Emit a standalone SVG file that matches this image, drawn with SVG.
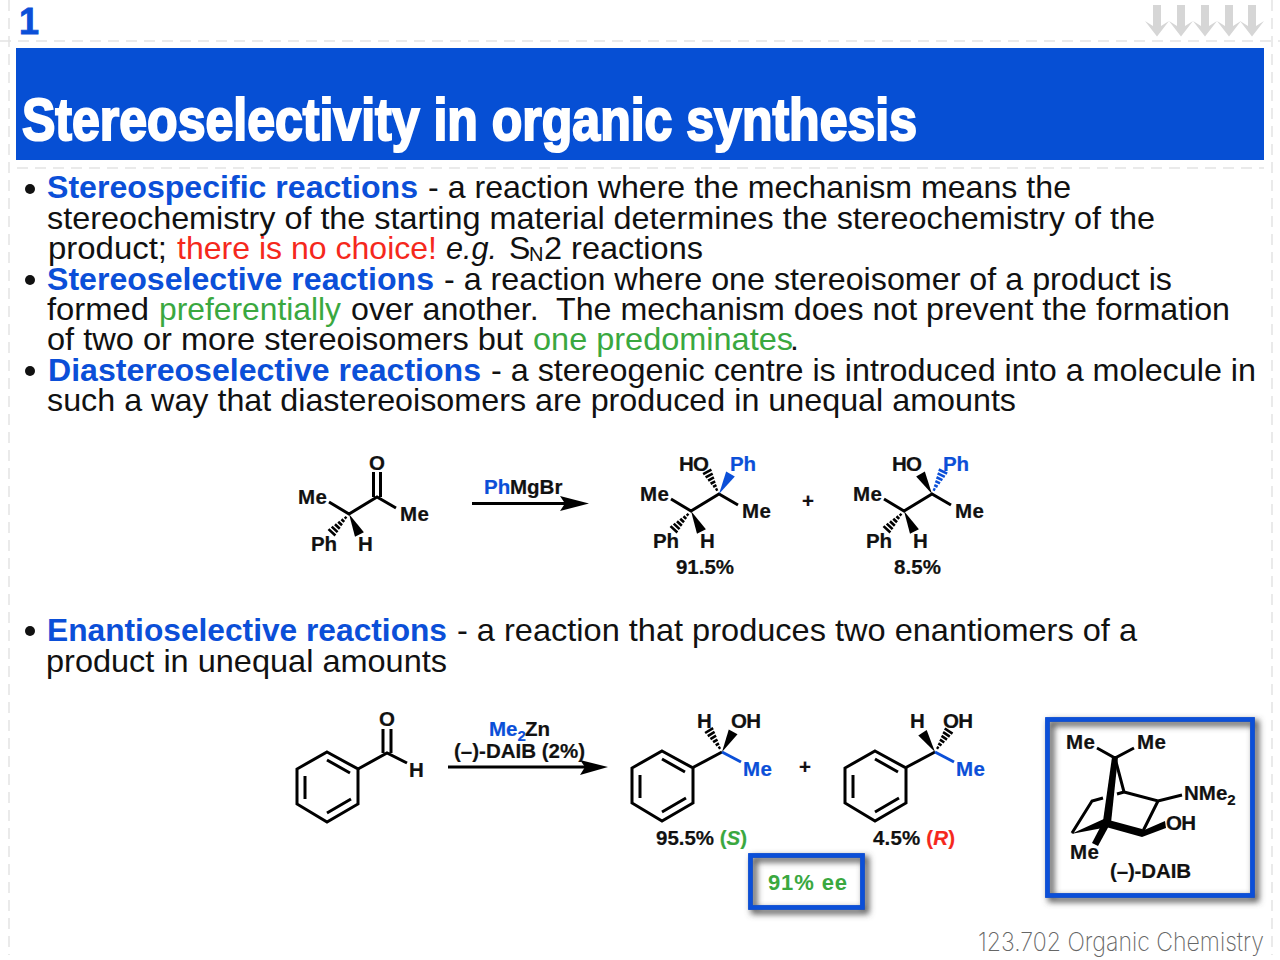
<svg xmlns="http://www.w3.org/2000/svg" width="1280" height="960" viewBox="0 0 1280 960">
<style>
text{font-family:"Liberation Sans",Arial,sans-serif}
.b{font-size:32px;fill:#111}
.bl{fill:#0b4fd8;font-weight:bold;font-size:32px}
.r{font-size:32px;fill:#f5281c}
.g{font-size:32px;fill:#3aa83f}
.c{font-size:20.5px;font-weight:bold;fill:#111;stroke:#111;stroke-width:.2}
.cb{font-size:20.5px;font-weight:bold;fill:#0b4fd8;stroke:#0b4fd8;stroke-width:.2}
.bond{fill:none;stroke:#000;stroke-width:3;stroke-linecap:butt;stroke-linejoin:miter}
.blue{stroke:#0b4fd8}
.guide{fill:none;stroke:#e4e4e4;stroke-width:1.5;stroke-dasharray:11 7}
.dot{fill:#111}
.arrowdown{fill:#d6d6d6}
.box{fill:#fff;stroke:#0b4fd8;stroke-width:4.5}
.shadow{fill:none;stroke:#555;stroke-width:6;filter:url(#blur)}
</style>
<defs>
<filter id="blur" x="-20%" y="-20%" width="140%" height="140%"><feGaussianBlur stdDeviation="3"/></filter>
<g id="hash" stroke-width="2.600" fill="none">
<path d="M5 -1.200V1.200M9 -1.900V1.900M13 -2.600V2.600M17 -3.300V3.300M21 -4V4M25 -4.700V4.700"/>
</g>
<polygon id="wedge" points="0,0 23,-5 23,5"/>
<g id="benz">
<path class="bond" d="M327 752L358 769V804L327 822L297 804V769Z"/>
<path class="bond" d="M327 760L350 773M305 776V799M327 813L351 799"/>
</g>
<g id="lower">
<path class="bond" d="M671 499L691 511L719 494L738 505"/>
<use href="#wedge" transform="translate(691 511) rotate(63)" fill="#000"/>
<use href="#hash" transform="translate(691 511) rotate(133)" stroke="#000"/>
<text class="c" x="640" y="501" textLength="29">Me</text>
<text class="c" x="742" y="518" textLength="29">Me</text>
<text class="c" x="653" y="548" textLength="26">Ph</text>
<text class="c" x="700" y="548">H</text>
</g>
<g id="arrowd"><polygon class="arrowdown" points="-4,5 4,5 4,26 12,21 0,36.500 -12,21 -4,26"/></g>
</defs>
<rect width="1280" height="960" fill="#fff"/>
<g id="guides">
<path class="guide" d="M0 41H1280M17 168H1264M9 0V955M1272 0V955"/>
</g>
<g id="header">
<text x="19" y="34" font-size="36" font-weight="bold" fill="#0b4fd8" stroke="#0b4fd8" stroke-width=".8">1</text>
<use href="#arrowd" x="1157"/><use href="#arrowd" x="1181"/><use href="#arrowd" x="1205"/><use href="#arrowd" x="1229"/><use href="#arrowd" x="1252"/>
<rect x="16" y="48" width="1248" height="112" fill="#064fd4"/>
<text x="22" y="140" font-size="60" font-weight="bold" fill="#fff" stroke="#fff" stroke-width="2.200" textLength="895" lengthAdjust="spacingAndGlyphs">Stereoselectivity in organic synthesis</text>
</g>
<g id="bullets">
<circle class="dot" cx="30" cy="189" r="5"/><circle class="dot" cx="30" cy="280" r="5"/><circle class="dot" cx="30" cy="371" r="5"/><circle class="dot" cx="30" cy="631" r="5"/>
<text class="bl" x="47" y="198" textLength="371" lengthAdjust="spacingAndGlyphs">Stereospecific reactions</text>
<text class="b" x="428" y="198" textLength="643" lengthAdjust="spacingAndGlyphs">- a reaction where the mechanism means the</text>
<text class="b" x="47" y="229" textLength="1108" lengthAdjust="spacingAndGlyphs">stereochemistry of the starting material determines the stereochemistry of the</text>
<text class="b" x="48" y="259" textLength="119" lengthAdjust="spacingAndGlyphs">product;</text>
<text class="r" x="177" y="259" textLength="260" lengthAdjust="spacingAndGlyphs">there is no choice!</text>
<text class="b" x="446" y="259" font-style="italic" textLength="51" lengthAdjust="spacingAndGlyphs">e.g.</text>
<text class="b" x="509" y="259">S</text><text class="b" x="529" y="261" style="font-size:20px">N</text>
<text class="b" x="544" y="259" textLength="159" lengthAdjust="spacingAndGlyphs">2 reactions</text>
<text class="bl" x="47" y="290" textLength="387" lengthAdjust="spacingAndGlyphs">Stereoselective reactions</text>
<text class="b" x="444" y="290" textLength="728" lengthAdjust="spacingAndGlyphs">- a reaction where one stereoisomer of a product is</text>
<text class="b" x="47" y="320" textLength="102" lengthAdjust="spacingAndGlyphs">formed</text>
<text class="g" x="159" y="320" textLength="182" lengthAdjust="spacingAndGlyphs">preferentially</text>
<text class="b" x="351" y="320" textLength="879" lengthAdjust="spacingAndGlyphs">over another.&#160; The mechanism does not prevent the formation</text>
<text class="b" x="47" y="350" textLength="476" lengthAdjust="spacingAndGlyphs">of two or more stereoisomers but</text>
<text class="g" x="533" y="350" textLength="260" lengthAdjust="spacingAndGlyphs">one predominates</text>
<text class="b" x="790" y="350">.</text>
<text class="bl" x="48" y="381" textLength="433" lengthAdjust="spacingAndGlyphs">Diastereoselective reactions</text>
<text class="b" x="491" y="381" textLength="765" lengthAdjust="spacingAndGlyphs">- a stereogenic centre is introduced into a molecule in</text>
<text class="b" x="47" y="411" textLength="969" lengthAdjust="spacingAndGlyphs">such a way that diastereoisomers are produced in unequal amounts</text>
<text class="bl" x="47" y="641" textLength="400" lengthAdjust="spacingAndGlyphs">Enantioselective reactions</text>
<text class="b" x="457" y="641" textLength="680" lengthAdjust="spacingAndGlyphs">- a reaction that produces two enantiomers of a</text>
<text class="b" x="46" y="672" textLength="401" lengthAdjust="spacingAndGlyphs">product in unequal amounts</text>
</g>
<g id="scheme-ketone">
<use href="#lower" transform="translate(-342 3)"/>
<path class="bond" d="M373.500 497V472M380.500 497V472"/>
<text class="c" x="369" y="470">O</text>
</g>
<g id="connector-1">
<path class="bond" d="M472 503.500H566"/><polygon points="560,496 589,503.500 560,511 565,503.500" fill="#000"/>
<text class="cb" x="484" y="494">Ph</text><text class="c" x="510" y="494">MgBr</text>
</g>
<g id="product-91">
<use href="#lower"/>
<use href="#wedge" transform="translate(719 494) rotate(-60)" fill="#0b4fd8"/>
<use href="#hash" transform="translate(719 494) rotate(-118)" stroke="#000"/>
<text class="c" x="679" y="471" textLength="30">HO</text>
<text class="cb" x="730" y="471" textLength="26">Ph</text>
<text class="c" x="676" y="574" textLength="58">91.5%</text>
</g>
<text class="c" x="802" y="508" id="plus-1">+</text>
<g id="product-8">
<use href="#lower" transform="translate(213 0)"/>
<use href="#wedge" transform="translate(932 494) rotate(-120)" fill="#000"/>
<use href="#hash" transform="translate(932 494) rotate(-64)" stroke="#0b4fd8"/>
<text class="c" x="892" y="471" textLength="30">HO</text>
<text class="cb" x="943" y="471" textLength="26">Ph</text>
<text class="c" x="894" y="574" textLength="47">8.5%</text>
</g>
<g id="benzaldehyde">
<use href="#benz"/>
<path class="bond" d="M358 769L387 753L407 763M383 753V729M391 753V729"/>
<text class="c" x="379" y="726">O</text>
<text class="c" x="409" y="777">H</text>
</g>
<g id="connector-2">
<path class="bond" d="M448 767H585"/><polygon points="580,760 608,767 580,775 585,767" fill="#000"/>
<text class="cb" x="489" y="736">Me<tspan dy="5" font-size="15">2</tspan></text>
<text class="c" x="525" y="736">Zn</text>
<text class="c" x="454" y="758" textLength="131">(–)-DAIB (2%)</text>
</g>
<g id="product-S">
<use href="#benz" transform="translate(335 -1)"/>
<path class="bond" d="M692 768L722 752"/><path class="bond blue" d="M722 752L741 762"/>
<use href="#wedge" transform="translate(722 752) rotate(-61)" fill="#000"/>
<use href="#hash" transform="translate(722 752) rotate(-121)" stroke="#000"/>
<text class="c" x="697" y="728">H</text><text class="c" x="731" y="728" textLength="30">OH</text>
<text class="cb" x="743" y="776" textLength="29">Me</text>
<text class="c" x="656" y="845" textLength="91">95.5% <tspan fill="#3aa83f" stroke="#3aa83f">(<tspan font-style="italic">S</tspan>)</tspan></text>
</g>
<text class="c" x="799" y="774" id="plus-2">+</text>
<g id="product-R">
<use href="#benz" transform="translate(548 -1)"/>
<path class="bond" d="M905 768L935 752"/><path class="bond blue" d="M935 752L954 762"/>
<use href="#wedge" transform="translate(935 752) rotate(-123)" fill="#000"/>
<use href="#hash" transform="translate(935 752) rotate(-57)" stroke="#000"/>
<text class="c" x="910" y="728">H</text><text class="c" x="943" y="728" textLength="30">OH</text>
<text class="cb" x="956" y="776" textLength="29">Me</text>
<text class="c" x="873" y="845" textLength="82">4.5% <tspan fill="#f5281c" stroke="#f5281c">(<tspan font-style="italic">R</tspan>)</tspan></text>
</g>
<g id="ee-box">
<rect class="box" x="750.500" y="855.500" width="112" height="52"/>
<rect class="shadow" x="754" y="859" width="112" height="52"/>
<rect x="750.500" y="855.500" width="112" height="52" fill="none" stroke="#0b4fd8" stroke-width="4.500"/>
<text x="768" y="890" font-size="22" font-weight="bold" fill="#3aa83f" textLength="79">91% ee</text>
</g>
<g id="daib-box">
<rect class="box" x="1047.500" y="719.500" width="205" height="176"/>
<rect class="shadow" x="1051" y="723" width="205" height="176"/>
<rect x="1047.500" y="719.500" width="205" height="176" fill="none" stroke="#0b4fd8" stroke-width="4.500"/>
<path class="bond" d="M1097 748L1115 758L1134 748M1115 758L1124 792L1158 801L1182 795M1158 801L1142 833M1072 833L1092 801L1103 798M1117 794L1124 792"/>
<polygon points="1112,757 1103,821 1111,823 1118,757" fill="#000"/>
<polygon points="1071,834 1106,818 1108,827" fill="#000"/>
<polygon points="1105,819 1142,829 1142,837 1106,827" fill="#000"/>
<polygon points="1142,831 1165,821 1166,828 1142,837" fill="#000"/>
<polygon points="1104,820 1110,824 1098,846 1092,843" fill="#000"/>
<text class="c" x="1066" y="749" textLength="29">Me</text>
<text class="c" x="1137" y="749" textLength="29">Me</text>
<text class="c" x="1184" y="800">NMe<tspan dy="5" font-size="15">2</tspan></text>
<text class="c" x="1166" y="830" textLength="30">OH</text>
<text class="c" x="1070" y="859" textLength="29">Me</text>
<text class="c" x="1110" y="878" textLength="81">(–)-DAIB</text>
</g>
<text id="footer" x="978" y="951" font-size="26" font-weight="200" fill="#666" style="font-family:Inter,'Liberation Sans',sans-serif" textLength="286" lengthAdjust="spacingAndGlyphs">123.702 Organic Chemistry</text>
</svg>
